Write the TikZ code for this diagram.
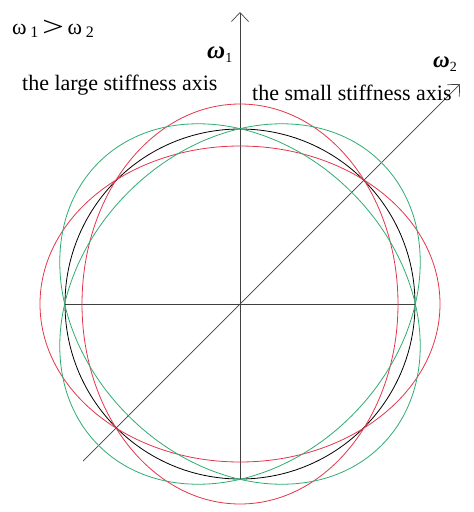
\documentclass[tikz,border=0pt]{standalone}
\usepackage{fontspec}
\setmainfont{Liberation Serif}
\usetikzlibrary{arrows.meta}
\definecolor{stiffred}{RGB}{228,52,74}
\definecolor{stiffgreen}{RGB}{46,172,112}

\begin{document}
\begin{tikzpicture}
  [
    x=1pt, y=-1pt,
    every node/.style={inner sep=0pt, font=\fontsize{22}{26}\selectfont},
    axis/.style={line width=0.7pt, black!75},
    curve/.style={line width=0.8pt},
    tip/.style={-{Straight Barb[length=9pt, width=17pt]}}
  ]
  \useasboundingbox (0, 0) rectangle (474, 512);
  \coordinate (o) at (240, 304);
  \coordinate (top) at (240, 12);
  \coordinate (bottom) at (240, 480);
  \coordinate (left) at (65, 304);
  \coordinate (right) at (415, 304);
  \coordinate (sw) at (83, 461);
  \coordinate (ne) at (460, 84);
  \draw [axis] (left) -- (right);
  \draw [axis, tip] (bottom) -- (top);
  \draw [axis, tip] (sw) -- (ne);

  \draw [curve] (o) circle [radius=175];
  \foreach \ang in {0, 90}{
    \draw [curve, stiffred, rotate around={\ang:(o)}] (o) ellipse [x radius=200, y radius=158];
  }
  \foreach \ang in {45, 135}{
    \draw [curve, stiffgreen, rotate around={\ang:(o)}] (o) ellipse [x radius=200, y radius=158];
  }

  \node [anchor=base west] (cmp) at (12, 34)
    {ω\,\raisebox{-3pt}{\fontsize{16}{16}\selectfont 1}\,\raisebox{-2pt}{\scalebox{1.5}[1.1]{\fontsize{26}{26}\selectfont >}}\,ω\,\raisebox{-3pt}{\fontsize{16}{16}\selectfont 2}};
  \node [anchor=base west] (large) at (22, 90) {the large stiffness axis};
  \node [anchor=base west] (small) at (252, 100) {the small stiffness axis};
  \node [anchor=base west] (w1) at (207, 58)
    {\fontsize{25}{26}\selectfont\bfseries\itshape ω\raisebox{-4pt}{\fontsize{14}{14}\selectfont\mdseries\upshape 1}};
  \node [anchor=base west] (w2) at (433, 67)
    {\fontsize{23}{26}\selectfont\bfseries\itshape ω\raisebox{-4pt}{\fontsize{14}{14}\selectfont\mdseries\upshape 2}};
\end{tikzpicture}
\end{document}
